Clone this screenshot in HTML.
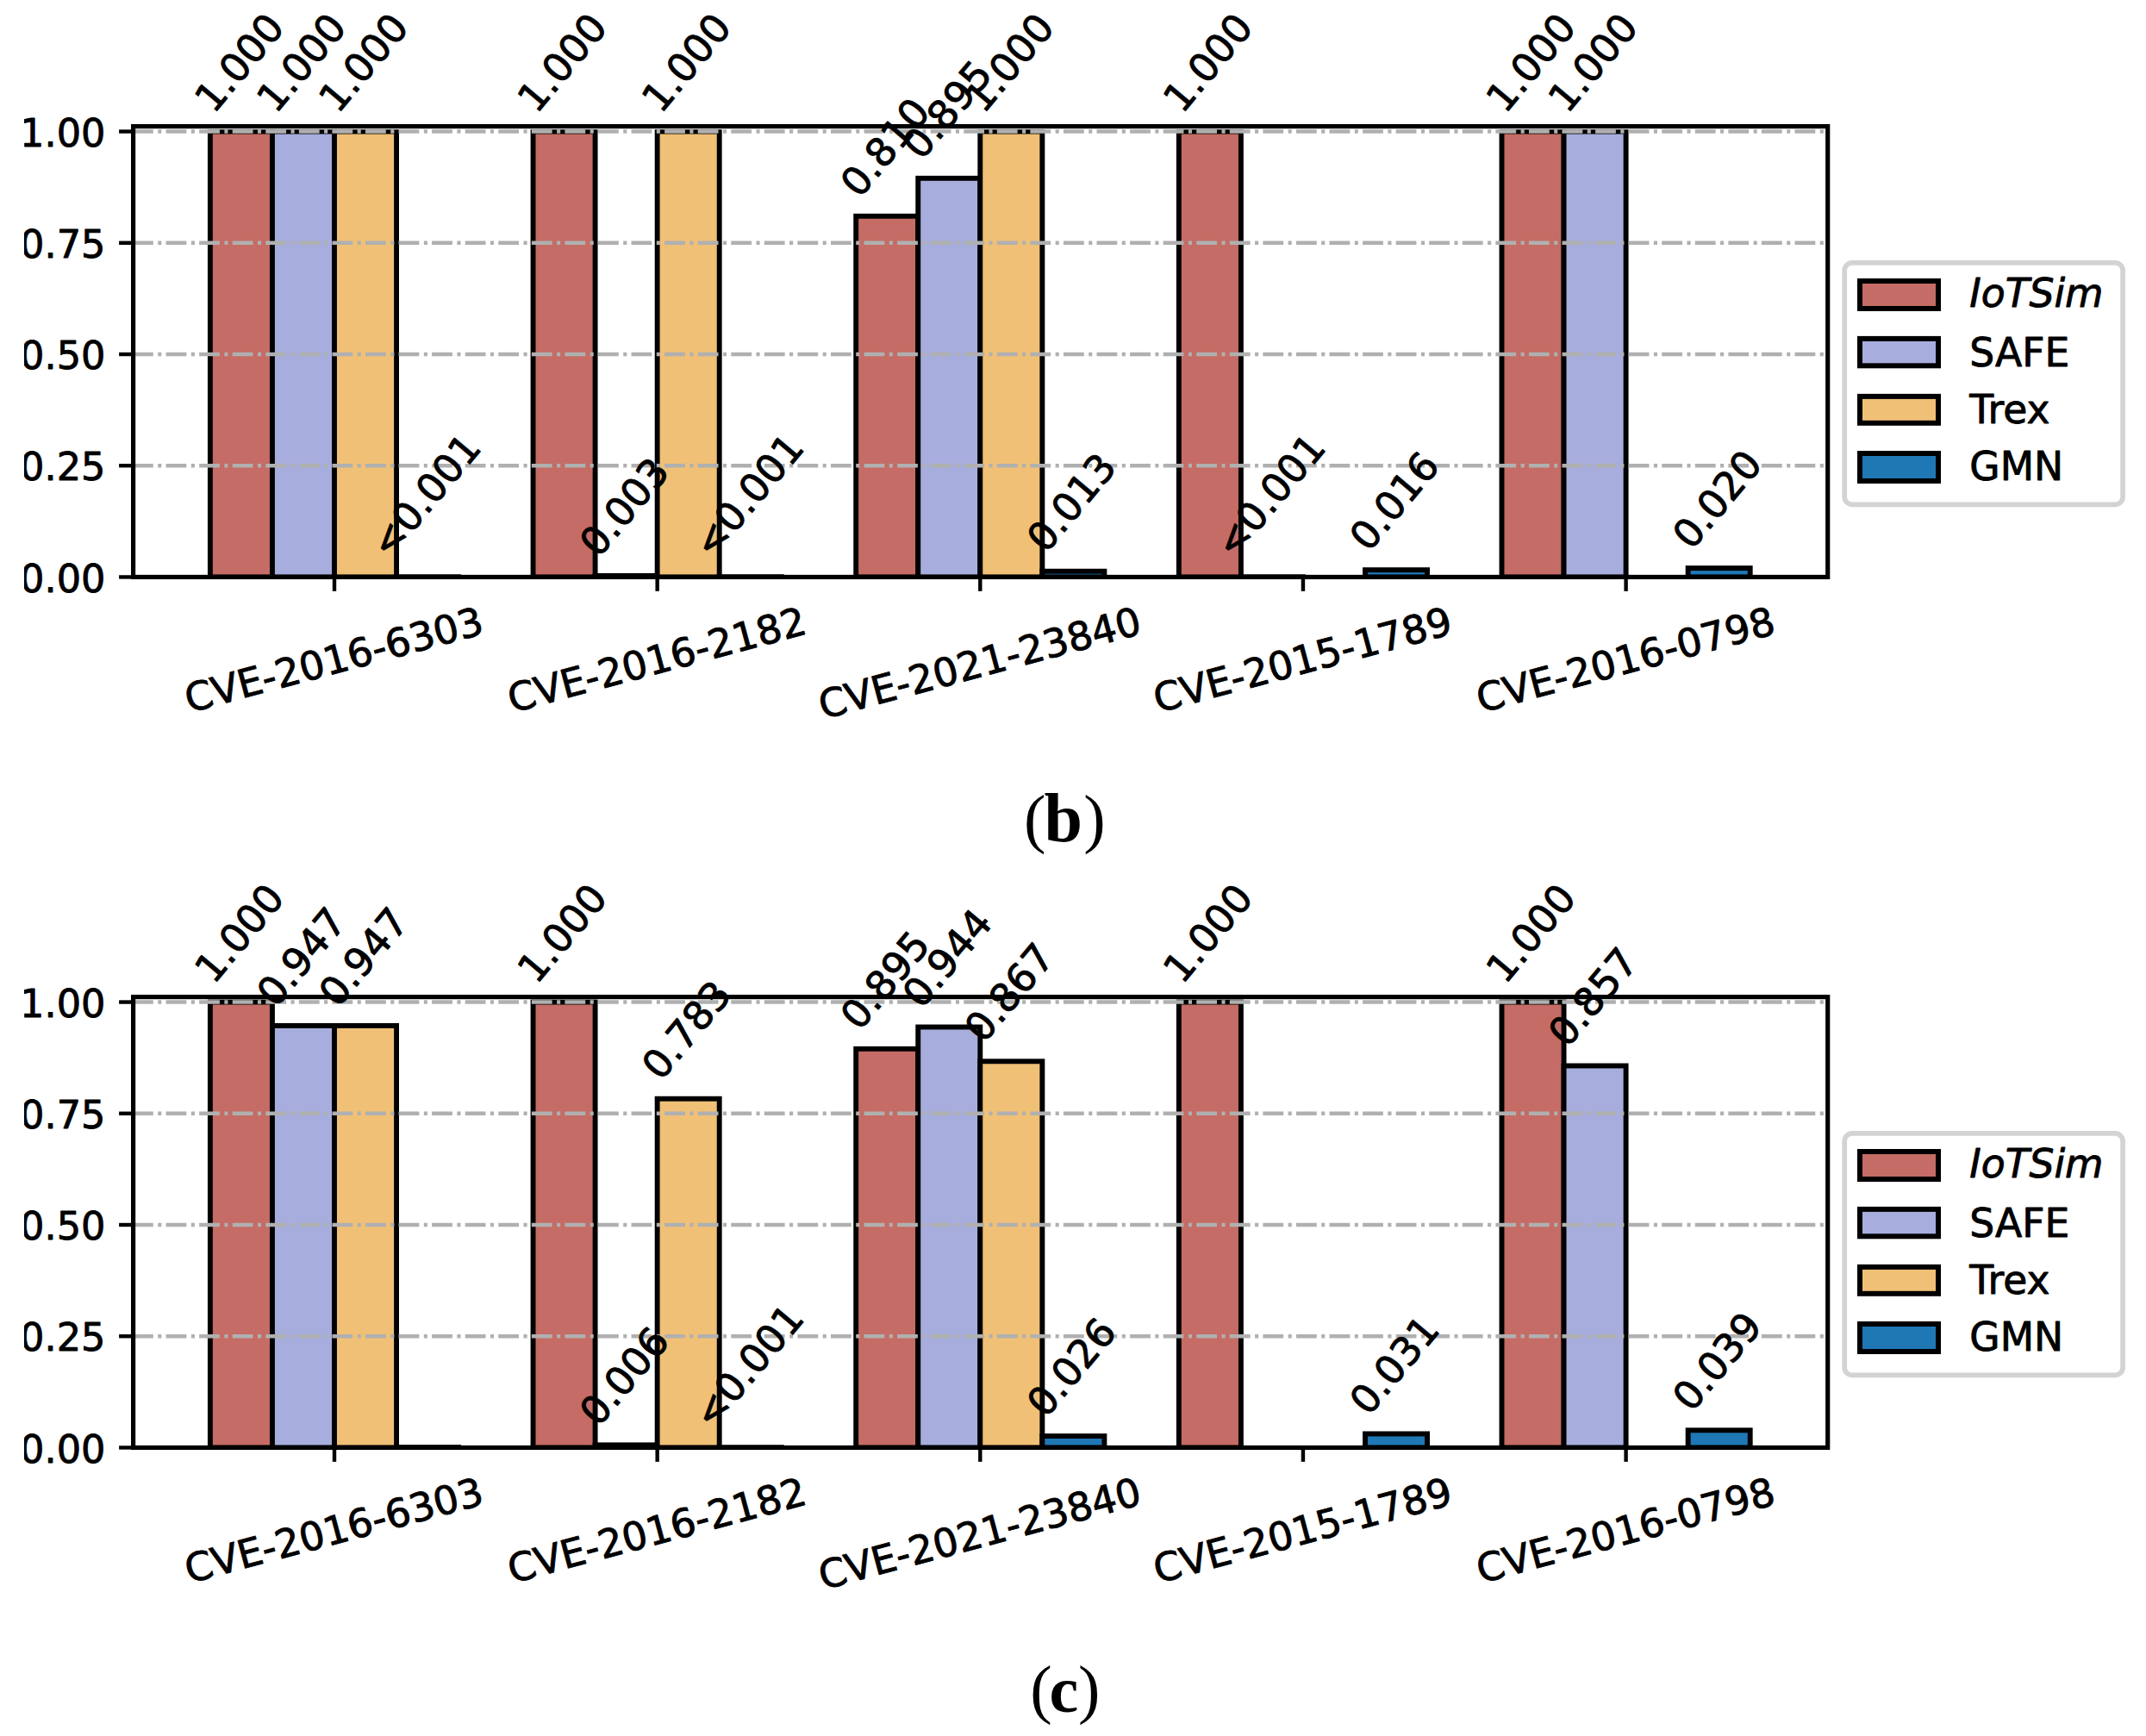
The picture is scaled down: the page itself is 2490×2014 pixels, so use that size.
<!DOCTYPE html><html><head><meta charset="utf-8"><title>Figure</title><style>html,body{margin:0;padding:0;background:#fff}svg{display:block}svg text{stroke:#000;stroke-width:.9px;stroke-linejoin:round}</style></head><body><svg width="2490" height="2014" viewBox="0 0 2490 2014" font-family='"DejaVu Sans","Liberation Sans",sans-serif' fill="#000">
<rect width="2490" height="2014" fill="#fff"/>
<defs><clipPath id="axcb"><rect x="154.6" y="150.2" width="1966.1" height="519.25"/></clipPath><clipPath id="axcc"><rect x="154.6" y="146.6" width="1966.1" height="522.85"/></clipPath><clipPath id="lc"><rect x="27.9" y="-1100" width="200" height="3200"/></clipPath></defs>
<g transform="translate(0,0)">
<g clip-path="url(#axcb)">
<rect x="243.9" y="152.55" width="72.05" height="516.9" fill="#c46c65" stroke="#000" stroke-width="5.9"/>
<rect x="315.95" y="152.55" width="72.05" height="516.9" fill="#a7aedd" stroke="#000" stroke-width="5.9"/>
<rect x="388" y="152.55" width="72.05" height="516.9" fill="#f0c077" stroke="#000" stroke-width="5.9"/>
<rect x="460.05" y="669.24" width="72.05" height="0.21" fill="#1f77b4" stroke="#000" stroke-width="5.9"/>
<rect x="618.55" y="152.55" width="72.05" height="516.9" fill="#c46c65" stroke="#000" stroke-width="5.9"/>
<rect x="690.6" y="667.9" width="72.05" height="1.55" fill="#a7aedd" stroke="#000" stroke-width="5.9"/>
<rect x="762.65" y="152.55" width="72.05" height="516.9" fill="#f0c077" stroke="#000" stroke-width="5.9"/>
<rect x="834.7" y="669.19" width="72.05" height="0.26" fill="#1f77b4" stroke="#000" stroke-width="5.9"/>
<rect x="993.2" y="250.76" width="72.05" height="418.69" fill="#c46c65" stroke="#000" stroke-width="5.9"/>
<rect x="1065.25" y="206.82" width="72.05" height="462.63" fill="#a7aedd" stroke="#000" stroke-width="5.9"/>
<rect x="1137.3" y="152.55" width="72.05" height="516.9" fill="#f0c077" stroke="#000" stroke-width="5.9"/>
<rect x="1209.35" y="662.73" width="72.05" height="6.72" fill="#1f77b4" stroke="#000" stroke-width="5.9"/>
<rect x="1367.85" y="152.55" width="72.05" height="516.9" fill="#c46c65" stroke="#000" stroke-width="5.9"/>
<rect x="1439.9" y="669.24" width="72.05" height="0.21" fill="#a7aedd" stroke="#000" stroke-width="5.9"/>
<rect x="1584" y="661.18" width="72.05" height="8.27" fill="#1f77b4" stroke="#000" stroke-width="5.9"/>
<rect x="1742.5" y="152.55" width="72.05" height="516.9" fill="#c46c65" stroke="#000" stroke-width="5.9"/>
<rect x="1814.55" y="152.55" width="72.05" height="516.9" fill="#a7aedd" stroke="#000" stroke-width="5.9"/>
<rect x="1958.65" y="659.11" width="72.05" height="10.34" fill="#1f77b4" stroke="#000" stroke-width="5.9"/>
</g>
<line x1="154" x2="2120.7" y1="152.55" y2="152.55" stroke="#b0b0b0" stroke-width="4.4" stroke-dasharray="23.8 5.45 4.1 5.22"/>
<line x1="138.1" x2="154.6" y1="152.55" y2="152.55" stroke="#000" stroke-width="4.4"/>
<text id="byt0" x="122.4" y="169.75" text-anchor="end" font-size="44.6" clip-path="url(#lc)">1.00</text>
<line x1="154" x2="2120.7" y1="281.78" y2="281.78" stroke="#b0b0b0" stroke-width="4.4" stroke-dasharray="23.8 5.45 4.1 5.22"/>
<line x1="138.1" x2="154.6" y1="281.78" y2="281.78" stroke="#000" stroke-width="4.4"/>
<text id="byt1" x="122.4" y="298.98" text-anchor="end" font-size="44.6" clip-path="url(#lc)">0.75</text>
<line x1="154" x2="2120.7" y1="411" y2="411" stroke="#b0b0b0" stroke-width="4.4" stroke-dasharray="23.8 5.45 4.1 5.22"/>
<line x1="138.1" x2="154.6" y1="411" y2="411" stroke="#000" stroke-width="4.4"/>
<text id="byt2" x="122.4" y="428.2" text-anchor="end" font-size="44.6" clip-path="url(#lc)">0.50</text>
<line x1="154" x2="2120.7" y1="540.23" y2="540.23" stroke="#b0b0b0" stroke-width="4.4" stroke-dasharray="23.8 5.45 4.1 5.22"/>
<line x1="138.1" x2="154.6" y1="540.23" y2="540.23" stroke="#000" stroke-width="4.4"/>
<text id="byt3" x="122.4" y="557.43" text-anchor="end" font-size="44.6" clip-path="url(#lc)">0.25</text>
<line x1="138.1" x2="154.6" y1="669.45" y2="669.45" stroke="#000" stroke-width="4.4"/>
<text id="byt4" x="122.4" y="686.65" text-anchor="end" font-size="44.6" clip-path="url(#lc)">0.00</text>
<rect x="154.6" y="146.6" width="1966.1" height="522.85" fill="none" stroke="#000" stroke-width="5.2"/>
<line x1="388" x2="388" y1="669.45" y2="685.85" stroke="#000" stroke-width="4.4"/>
<text id="bxt0" transform="translate(219.6,826.9) rotate(-15.0)" font-size="45.5">CVE-2016-6303</text>
<line x1="762.65" x2="762.65" y1="669.45" y2="685.85" stroke="#000" stroke-width="4.4"/>
<text id="bxt1" transform="translate(594.25,826.9) rotate(-15.0)" font-size="45.5">CVE-2016-2182</text>
<line x1="1137.3" x2="1137.3" y1="669.45" y2="685.85" stroke="#000" stroke-width="4.4"/>
<text id="bxt2" transform="translate(954.9,834.4) rotate(-15.0)" font-size="45.5">CVE-2021-23840</text>
<line x1="1511.95" x2="1511.95" y1="669.45" y2="685.85" stroke="#000" stroke-width="4.4"/>
<text id="bxt3" transform="translate(1343.55,826.9) rotate(-15.0)" font-size="45.5">CVE-2015-1789</text>
<line x1="1886.6" x2="1886.6" y1="669.45" y2="685.85" stroke="#000" stroke-width="4.4"/>
<text id="bxt4" transform="translate(1718.2,826.9) rotate(-15.0)" font-size="45.5">CVE-2016-0798</text>
<text id="bl00" transform="translate(247.93,133.05) rotate(-50.0)" font-size="45.7">1.000</text>
<text id="bl01" transform="translate(319.98,133.05) rotate(-50.0)" font-size="45.7">1.000</text>
<text id="bl02" transform="translate(392.02,133.05) rotate(-50.0)" font-size="45.7">1.000</text>
<text id="bl03" transform="translate(451.57,650.04) rotate(-50.0)" font-size="45.7">&lt;0.001</text>
<text id="bl10" transform="translate(622.58,133.05) rotate(-50.0)" font-size="45.7">1.000</text>
<text id="bl11" transform="translate(694.62,648.4) rotate(-50.0)" font-size="45.7">0.003</text>
<text id="bl12" transform="translate(766.67,133.05) rotate(-50.0)" font-size="45.7">1.000</text>
<text id="bl13" transform="translate(826.22,649.99) rotate(-50.0)" font-size="45.7">&lt;0.001</text>
<text id="bl20" transform="translate(997.22,231.26) rotate(-50.0)" font-size="45.7">0.810</text>
<text id="bl21" transform="translate(1069.27,187.32) rotate(-50.0)" font-size="45.7">0.895</text>
<text id="bl22" transform="translate(1141.33,133.05) rotate(-50.0)" font-size="45.7">1.000</text>
<text id="bl23" transform="translate(1213.38,643.23) rotate(-50.0)" font-size="45.7">0.013</text>
<text id="bl30" transform="translate(1371.87,133.05) rotate(-50.0)" font-size="45.7">1.000</text>
<text id="bl31" transform="translate(1431.42,650.04) rotate(-50.0)" font-size="45.7">&lt;0.001</text>
<text id="bl33" transform="translate(1588.02,641.68) rotate(-50.0)" font-size="45.7">0.016</text>
<text id="bl40" transform="translate(1746.52,133.05) rotate(-50.0)" font-size="45.7">1.000</text>
<text id="bl41" transform="translate(1818.57,133.05) rotate(-50.0)" font-size="45.7">1.000</text>
<text id="bl43" transform="translate(1962.67,639.61) rotate(-50.0)" font-size="45.7">0.020</text>
<rect x="2140.2" y="304.8" width="322.9" height="280.6" rx="9" ry="9" fill="#fff" stroke="#d3d3d3" stroke-width="5.7"/>
<rect x="2158" y="326" width="91" height="32.0" fill="#c46c65" stroke="#000" stroke-width="6"/>
<text id="blg0" x="2285.3" y="355.8" font-size="45.6" font-style="italic">IoTSim</text>
<rect x="2158" y="392.9" width="91" height="31.4" fill="#a7aedd" stroke="#000" stroke-width="6"/>
<text id="blg1" x="2285.3" y="424.6" font-size="45.6">SAFE</text>
<rect x="2158" y="459.9" width="91" height="30.9" fill="#f0c077" stroke="#000" stroke-width="6"/>
<text id="blg2" x="2285.3" y="490.8" font-size="45.6">Trex</text>
<rect x="2158" y="526" width="91" height="32.0" fill="#1f77b4" stroke="#000" stroke-width="6"/>
<text id="blg3" x="2285.3" y="557.4" font-size="45.6">GMN</text>
</g>
<g transform="translate(0,1010)">
<g clip-path="url(#axcc)">
<rect x="243.9" y="152.55" width="72.05" height="516.9" fill="#c46c65" stroke="#000" stroke-width="5.9"/>
<rect x="315.95" y="179.95" width="72.05" height="489.5" fill="#a7aedd" stroke="#000" stroke-width="5.9"/>
<rect x="388" y="179.95" width="72.05" height="489.5" fill="#f0c077" stroke="#000" stroke-width="5.9"/>
<rect x="460.05" y="669.04" width="72.05" height="0.41" fill="#1f77b4" stroke="#000" stroke-width="5.9"/>
<rect x="618.55" y="152.55" width="72.05" height="516.9" fill="#c46c65" stroke="#000" stroke-width="5.9"/>
<rect x="690.6" y="666.35" width="72.05" height="3.1" fill="#a7aedd" stroke="#000" stroke-width="5.9"/>
<rect x="762.65" y="264.72" width="72.05" height="404.73" fill="#f0c077" stroke="#000" stroke-width="5.9"/>
<rect x="834.7" y="669.19" width="72.05" height="0.26" fill="#1f77b4" stroke="#000" stroke-width="5.9"/>
<rect x="993.2" y="206.82" width="72.05" height="462.63" fill="#c46c65" stroke="#000" stroke-width="5.9"/>
<rect x="1065.25" y="181.5" width="72.05" height="487.95" fill="#a7aedd" stroke="#000" stroke-width="5.9"/>
<rect x="1137.3" y="221.3" width="72.05" height="448.15" fill="#f0c077" stroke="#000" stroke-width="5.9"/>
<rect x="1209.35" y="656.01" width="72.05" height="13.44" fill="#1f77b4" stroke="#000" stroke-width="5.9"/>
<rect x="1367.85" y="152.55" width="72.05" height="516.9" fill="#c46c65" stroke="#000" stroke-width="5.9"/>
<rect x="1584" y="653.43" width="72.05" height="16.02" fill="#1f77b4" stroke="#000" stroke-width="5.9"/>
<rect x="1742.5" y="152.55" width="72.05" height="516.9" fill="#c46c65" stroke="#000" stroke-width="5.9"/>
<rect x="1814.55" y="226.47" width="72.05" height="442.98" fill="#a7aedd" stroke="#000" stroke-width="5.9"/>
<rect x="1958.65" y="649.29" width="72.05" height="20.16" fill="#1f77b4" stroke="#000" stroke-width="5.9"/>
</g>
<line x1="154" x2="2120.7" y1="152.55" y2="152.55" stroke="#b0b0b0" stroke-width="4.4" stroke-dasharray="23.8 5.45 4.1 5.22"/>
<line x1="138.1" x2="154.6" y1="152.55" y2="152.55" stroke="#000" stroke-width="4.4"/>
<text id="cyt0" x="122.4" y="169.75" text-anchor="end" font-size="44.6" clip-path="url(#lc)">1.00</text>
<line x1="154" x2="2120.7" y1="281.78" y2="281.78" stroke="#b0b0b0" stroke-width="4.4" stroke-dasharray="23.8 5.45 4.1 5.22"/>
<line x1="138.1" x2="154.6" y1="281.78" y2="281.78" stroke="#000" stroke-width="4.4"/>
<text id="cyt1" x="122.4" y="298.98" text-anchor="end" font-size="44.6" clip-path="url(#lc)">0.75</text>
<line x1="154" x2="2120.7" y1="411" y2="411" stroke="#b0b0b0" stroke-width="4.4" stroke-dasharray="23.8 5.45 4.1 5.22"/>
<line x1="138.1" x2="154.6" y1="411" y2="411" stroke="#000" stroke-width="4.4"/>
<text id="cyt2" x="122.4" y="428.2" text-anchor="end" font-size="44.6" clip-path="url(#lc)">0.50</text>
<line x1="154" x2="2120.7" y1="540.23" y2="540.23" stroke="#b0b0b0" stroke-width="4.4" stroke-dasharray="23.8 5.45 4.1 5.22"/>
<line x1="138.1" x2="154.6" y1="540.23" y2="540.23" stroke="#000" stroke-width="4.4"/>
<text id="cyt3" x="122.4" y="557.43" text-anchor="end" font-size="44.6" clip-path="url(#lc)">0.25</text>
<line x1="138.1" x2="154.6" y1="669.45" y2="669.45" stroke="#000" stroke-width="4.4"/>
<text id="cyt4" x="122.4" y="686.65" text-anchor="end" font-size="44.6" clip-path="url(#lc)">0.00</text>
<rect x="154.6" y="146.6" width="1966.1" height="522.85" fill="none" stroke="#000" stroke-width="5.2"/>
<line x1="388" x2="388" y1="669.45" y2="685.85" stroke="#000" stroke-width="4.4"/>
<text id="cxt0" transform="translate(219.6,826.9) rotate(-15.0)" font-size="45.5">CVE-2016-6303</text>
<line x1="762.65" x2="762.65" y1="669.45" y2="685.85" stroke="#000" stroke-width="4.4"/>
<text id="cxt1" transform="translate(594.25,826.9) rotate(-15.0)" font-size="45.5">CVE-2016-2182</text>
<line x1="1137.3" x2="1137.3" y1="669.45" y2="685.85" stroke="#000" stroke-width="4.4"/>
<text id="cxt2" transform="translate(954.9,834.4) rotate(-15.0)" font-size="45.5">CVE-2021-23840</text>
<line x1="1511.95" x2="1511.95" y1="669.45" y2="685.85" stroke="#000" stroke-width="4.4"/>
<text id="cxt3" transform="translate(1343.55,826.9) rotate(-15.0)" font-size="45.5">CVE-2015-1789</text>
<line x1="1886.6" x2="1886.6" y1="669.45" y2="685.85" stroke="#000" stroke-width="4.4"/>
<text id="cxt4" transform="translate(1718.2,826.9) rotate(-15.0)" font-size="45.5">CVE-2016-0798</text>
<text id="cl00" transform="translate(247.93,133.05) rotate(-50.0)" font-size="45.7">1.000</text>
<text id="cl01" transform="translate(319.98,160.45) rotate(-50.0)" font-size="45.7">0.947</text>
<text id="cl02" transform="translate(392.02,160.45) rotate(-50.0)" font-size="45.7">0.947</text>
<text id="cl10" transform="translate(622.58,133.05) rotate(-50.0)" font-size="45.7">1.000</text>
<text id="cl11" transform="translate(694.62,646.85) rotate(-50.0)" font-size="45.7">0.006</text>
<text id="cl12" transform="translate(766.67,245.22) rotate(-50.0)" font-size="45.7">0.783</text>
<text id="cl13" transform="translate(826.22,649.99) rotate(-50.0)" font-size="45.7">&lt;0.001</text>
<text id="cl20" transform="translate(997.22,187.32) rotate(-50.0)" font-size="45.7">0.895</text>
<text id="cl21" transform="translate(1069.27,162) rotate(-50.0)" font-size="45.7">0.944</text>
<text id="cl22" transform="translate(1141.33,201.8) rotate(-50.0)" font-size="45.7">0.867</text>
<text id="cl23" transform="translate(1213.38,636.51) rotate(-50.0)" font-size="45.7">0.026</text>
<text id="cl30" transform="translate(1371.87,133.05) rotate(-50.0)" font-size="45.7">1.000</text>
<text id="cl33" transform="translate(1588.02,633.93) rotate(-50.0)" font-size="45.7">0.031</text>
<text id="cl40" transform="translate(1746.52,133.05) rotate(-50.0)" font-size="45.7">1.000</text>
<text id="cl41" transform="translate(1818.57,206.97) rotate(-50.0)" font-size="45.7">0.857</text>
<text id="cl43" transform="translate(1962.67,629.79) rotate(-50.0)" font-size="45.7">0.039</text>
<rect x="2140.2" y="304.8" width="322.9" height="280.6" rx="9" ry="9" fill="#fff" stroke="#d3d3d3" stroke-width="5.7"/>
<rect x="2158" y="326" width="91" height="32.0" fill="#c46c65" stroke="#000" stroke-width="6"/>
<text id="clg0" x="2285.3" y="355.8" font-size="45.6" font-style="italic">IoTSim</text>
<rect x="2158" y="392.9" width="91" height="31.4" fill="#a7aedd" stroke="#000" stroke-width="6"/>
<text id="clg1" x="2285.3" y="424.6" font-size="45.6">SAFE</text>
<rect x="2158" y="459.9" width="91" height="30.9" fill="#f0c077" stroke="#000" stroke-width="6"/>
<text id="clg2" x="2285.3" y="490.8" font-size="45.6">Trex</text>
<rect x="2158" y="526" width="91" height="32.0" fill="#1f77b4" stroke="#000" stroke-width="6"/>
<text id="clg3" x="2285.3" y="557.4" font-size="45.6">GMN</text>
</g>
<text id="capb0" x="1188" y="974.5" style="stroke:none" font-family="'Liberation Serif',serif" font-size="76.4">(</text>
<text id="capb1" x="1211.5" y="976.2" style="stroke:none" font-family="'Liberation Serif',serif" font-size="80" font-weight="bold">b</text>
<text id="capb2" x="1257.2" y="974.5" style="stroke:none" font-family="'Liberation Serif',serif" font-size="76.4">)</text>
<text id="capc0" x="1195.2" y="1984.6" style="stroke:none" font-family="'Liberation Serif',serif" font-size="76.4">(</text>
<text id="capc1" x="1217.6" y="1985.6" style="stroke:none" font-family="'Liberation Serif',serif" font-size="76" font-weight="bold">c</text>
<text id="capc2" x="1251" y="1984.6" style="stroke:none" font-family="'Liberation Serif',serif" font-size="76.4">)</text>
</svg></body></html>
